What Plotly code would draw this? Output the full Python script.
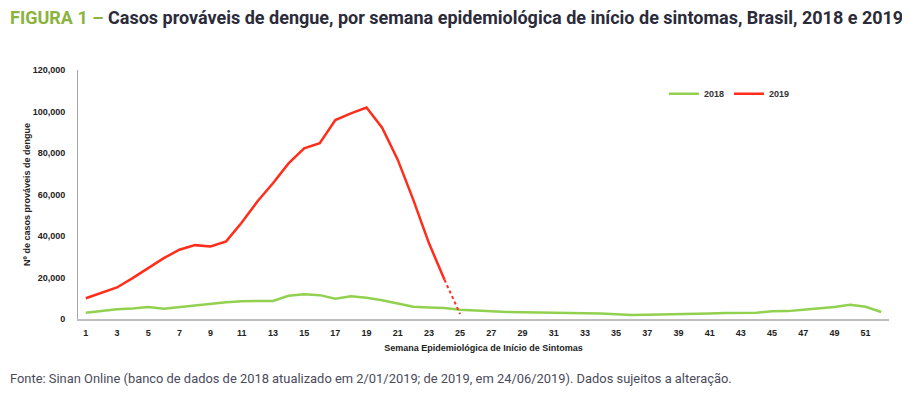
import plotly.graph_objects as go

weeks = list(range(1, 53))
cases_2018 = [3000, 3900, 4700, 5100, 5800, 5000, 5800, 6500, 7400, 8100,
              8600, 8700, 8700, 11200, 11900, 11500, 9800, 11000, 10200, 9000,
              7400, 5900, 5600, 5300, 4500, 4000, 3700, 3400, 3300, 3000,
              2900, 2800, 2700, 2600, 2300, 1900, 2100, 2200, 2200, 2500,
              2700, 2900, 3000, 3000, 3700, 3800, 4500, 5100, 5800, 6900,
              5900, 3400]
weeks_2019 = list(range(1, 25))
cases_2019 = [10000, 12500, 15200, 19700, 24500, 29300, 33400, 35600, 35000, 37400,
              46500, 56600, 65400, 75000, 82300, 84700, 95900, 99100, 101900, 92200,
              76800, 57400, 36600, 18900]
weeks_2019_proj = [24, 25]
cases_2019_proj = [18900, 2400]

y_ticks = [0, 20000, 40000, 60000, 80000, 100000, 120000]
x_ticks = list(range(1, 53, 2))

GREEN = "#92d050"
RED = "#ff2d1a"

fig = go.Figure()
fig.add_trace(go.Scatter(x=weeks, y=cases_2018, mode="lines", name="2018",
                         line=dict(color=GREEN, width=2.5)))
fig.add_trace(go.Scatter(x=weeks_2019, y=cases_2019, mode="lines", name="2019",
                         line=dict(color=RED, width=2.5)))
fig.add_trace(go.Scatter(x=weeks_2019_proj, y=cases_2019_proj, mode="lines",
                         showlegend=False, line=dict(color=RED, width=2, dash="dot")))

FONT = "Liberation Sans, Arial, sans-serif"
tick_font = dict(family=FONT, size=9, color="#222222")

fig.update_layout(
    width=902, height=385,
    margin=dict(l=70, r=21, t=62, b=74, autoexpand=False),
    paper_bgcolor="white", plot_bgcolor="white",
    showlegend=True,
    legend=dict(orientation="h", x=0.7225, y=0.905, xanchor="left", yanchor="middle",
                font=dict(family=FONT, size=9, color="#333333", weight="bold"),
                itemwidth=30, bgcolor="rgba(0,0,0,0)"),
    xaxis=dict(range=[0.5, 52.5], tickmode="array", tickvals=x_ticks,
               ticktext=[f"<b>{v}</b>" for v in x_ticks], showgrid=False, zeroline=False,
               showline=True, linecolor="#bfbfbf", linewidth=2, ticks="",
               tickfont=tick_font, fixedrange=True, automargin=False,
               ticklabelstandoff=4,
               title=dict(text="<b>Semana Epidemiológica de Início de Sintomas</b>",
                          font=dict(family=FONT, size=9, color="#222222"),
                          standoff=8)),
    yaxis=dict(range=[0, 120000], tickmode="array", tickvals=y_ticks,
               ticktext=[f"<b>{v:,}</b>" for v in y_ticks], showgrid=False, zeroline=False,
               showline=True, linecolor="#a6a6a6", linewidth=1, ticks="",
               tickfont=tick_font, ticklabelstandoff=10, automargin=False, fixedrange=True,
               title=dict(text="<b>Nº de casos prováveis de dengue</b>",
                          font=dict(family=FONT, size=9, color="#222222"),
                          standoff=0)),
)

fig.add_annotation(
    xref="paper", yref="paper", x=-70/811, y=1 + (70 - 17) / 249, xanchor="left", yanchor="middle",
    text="<span style='color:#8ab43c'>FIGURA 1 – </span>Casos prováveis de dengue, por semana epidemiológica de início de sintomas, Brasil, 2018 e 2019",
    showarrow=False,
    font=dict(family="Liberation Sans Narrow, Roboto, sans-serif", size=18, color="#2b2b3a", weight="bold"),
)
fig.add_annotation(
    xref="paper", yref="paper", x=-70/811, y=-(378 - 319) / 249, xanchor="left", yanchor="middle",
    text="Fonte: Sinan Online (banco de dados de 2018 atualizado em 2/01/2019; de 2019, em 24/06/2019). Dados sujeitos a alteração.",
    showarrow=False,
    font=dict(family="Roboto, sans-serif", size=12.9, color="#4a4a5a"),
)

fig.write_html("out.html")
